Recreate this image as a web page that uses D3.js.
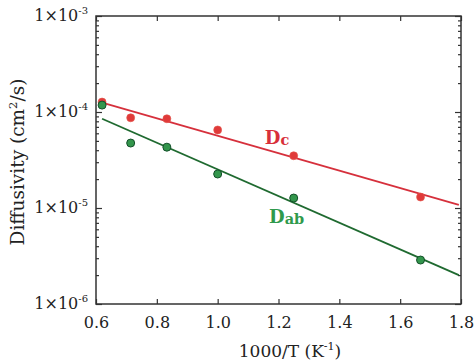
<!DOCTYPE html>
<html><head><meta charset="utf-8">
<script src="https://cdn.jsdelivr.net/npm/d3@7"></script>
<style>body{margin:0;background:#fff}svg{display:block}</style>
</head><body>
<script>
// Data
const xTicks = [0.6, 0.8, 1.0, 1.2, 1.4, 1.6, 1.8];
const yDecades = [1e-6, 1e-5, 1e-4, 1e-3];
const yExp = ["-6", "-5", "-4", "-3"];
const tempX = [0.62, 0.714, 0.833, 1.0, 1.25, 1.667];
const dcValues = [1.27e-4, 8.7e-5, 8.5e-5, 6.5e-5, 3.5e-5, 1.3e-5];
const dabValues = [1.18e-4, 4.75e-5, 4.3e-5, 2.26e-5, 1.27e-5, 2.87e-6];
const fitX = [0.62, 1.793];
const dcFit = [1.25e-4, 1.08e-5];
const dabFit = [8.5e-5, 2.0e-6];
const labels = [{t:"D", s:"c", x:1.155, y:4.64e-5, c:"#d8303a"}, {t:"D", s:"ab", x:1.169, y:7.0e-6, c:"#2f9a4c"}];

const W = 474, H = 364;
const m = {l:96, r:461, t:16, b:304};
const font = "DejaVu Serif";
const svg = d3.select("body").append("svg").attr("width", W).attr("height", H);
const x = d3.scaleLinear().domain([0.6, 1.8]).range([m.l, m.r]);
const y = d3.scaleLog().domain([1e-6, 1e-3]).range([m.b, m.t]);

const minor = [];
for (let d = 0; d < 3; d++) for (let k = 2; k <= 9; k++) minor.push(yDecades[d] * k);

function styleAxis(g){ g.select(".domain").remove(); g.selectAll("line").attr("stroke","#333").attr("stroke-width",1.2); }

// x axes
svg.append("g").attr("transform",`translate(0,${m.b})`)
  .call(d3.axisBottom(x).tickValues(xTicks).tickSize(-5).tickPadding(13).tickFormat(d3.format(".1f")))
  .call(styleAxis)
  .selectAll("text").attr("font-family",font).attr("font-size",16).attr("fill","#222");
svg.append("g").attr("transform",`translate(0,${m.t})`)
  .call(d3.axisTop(x).tickValues(xTicks).tickSize(-5).tickFormat(""))
  .call(styleAxis);
// y axes
svg.append("g").attr("transform",`translate(${m.l},0)`)
  .call(d3.axisLeft(y).tickValues(yDecades).tickSize(-6).tickFormat(""))
  .call(styleAxis);
svg.append("g").attr("transform",`translate(${m.l},0)`)
  .call(d3.axisLeft(y).tickValues(minor).tickSize(-3).tickFormat(""))
  .call(styleAxis);
svg.append("g").attr("transform",`translate(${m.r},0)`)
  .call(d3.axisRight(y).tickValues(yDecades).tickSize(-6).tickFormat(""))
  .call(styleAxis);
svg.append("g").attr("transform",`translate(${m.r},0)`)
  .call(d3.axisRight(y).tickValues(minor).tickSize(-3).tickFormat(""))
  .call(styleAxis);

// y tick labels
yDecades.forEach((v,i)=>{
  const t = svg.append("text").attr("x", m.l-8).attr("y", y(v)+5)
    .attr("text-anchor","end").attr("font-family",font).attr("font-size",16).attr("fill","#222");
  t.append("tspan").text("1×10");
  t.append("tspan").attr("dy",-7).attr("font-size",10).text(yExp[i]);
});

// frame
svg.append("rect").attr("x",m.l).attr("y",m.t).attr("width",m.r-m.l).attr("height",m.b-m.t)
  .attr("fill","none").attr("stroke","#333").attr("stroke-width",1.5);

// fit lines
const line = d3.line().x(d=>x(d[0])).y(d=>y(d[1]));
svg.append("path").attr("d", line(fitX.map((v,i)=>[v,dcFit[i]]))).attr("stroke","#d6303c").attr("stroke-width",1.8).attr("fill","none");
svg.append("path").attr("d", line(fitX.map((v,i)=>[v,dabFit[i]]))).attr("stroke","#1f6a30").attr("stroke-width",1.8).attr("fill","none");

// points
svg.selectAll(".dc").data(tempX).enter().append("circle")
  .attr("cx",d=>x(d)).attr("cy",(d,i)=>y(dcValues[i])).attr("r",4)
  .attr("fill","#e03a3a").attr("stroke","#e2554a").attr("stroke-width",0.6);
svg.selectAll(".dab").data(tempX).enter().append("circle")
  .attr("cx",d=>x(d)).attr("cy",(d,i)=>y(dabValues[i])).attr("r",4)
  .attr("fill","#33964c").attr("stroke","#14502a").attr("stroke-width",1);

// labels
labels.forEach(l=>{
  const t = svg.append("text").attr("x",x(l.x)).attr("y",y(l.y)).attr("font-family",font)
    .attr("font-size",18).attr("font-weight","bold").attr("fill",l.c);
  t.append("tspan").text(l.t);
  t.append("tspan").attr("dy",1).attr("font-size",14.5).text(l.s);
});

// axis titles
const xt = svg.append("text").attr("x",290).attr("y",357).attr("text-anchor","middle")
  .attr("font-family",font).attr("font-size",17).attr("fill","#222");
xt.append("tspan").text("1000/T (K");
xt.append("tspan").attr("dy",-7).attr("font-size",11).text("-1");
xt.append("tspan").attr("dy",7).text(")");

const yt = svg.append("text").attr("transform","translate(24,162) rotate(-90)").attr("text-anchor","middle")
  .attr("font-family",font).attr("font-size",18.5).attr("fill","#222");
yt.append("tspan").text("Diffusivity (cm");
yt.append("tspan").attr("dy",-7).attr("font-size",11.5).text("2");
yt.append("tspan").attr("dy",7).text("/s)");
</script>
</body></html>
